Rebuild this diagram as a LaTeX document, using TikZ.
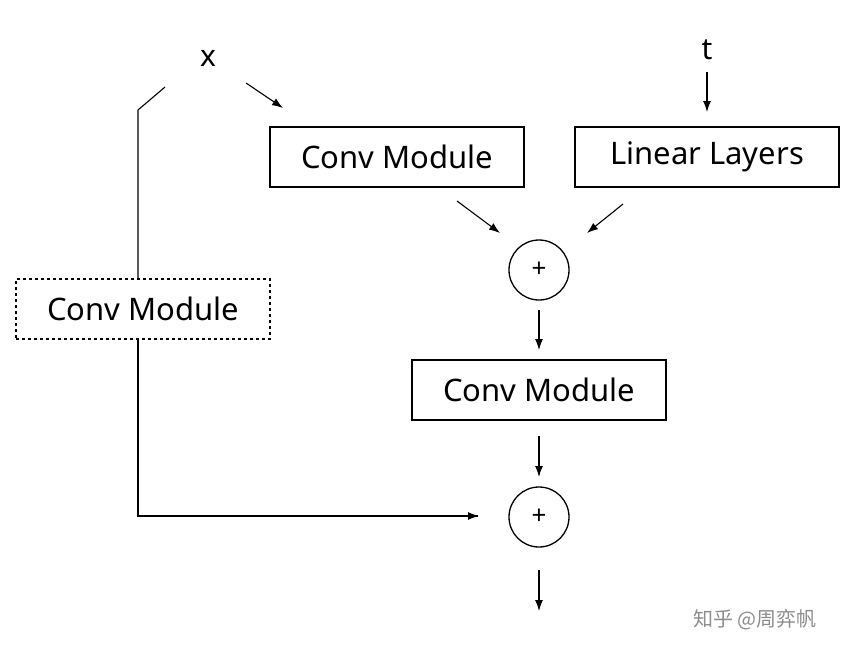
\documentclass[tikz,border=0pt]{standalone}
\usepackage{fontspec}
\setmainfont{Noto Sans}
\newfontfamily\cjk{Noto Sans CJK SC}
\usetikzlibrary{arrows.meta}
\begin{document}
\begin{tikzpicture}[x=1pt,y=-1pt,
  box/.style={draw,line width=1.3pt,minimum width=254pt,minimum height=60pt,inner sep=0pt,font=\fontsize{31}{36}\selectfont},
  plus/.style={draw,circle,line width=1.3pt,minimum size=60pt,inner sep=0pt,font=\fontsize{26}{30}\selectfont},
  arr/.style={line width=1.1pt,-{Latex[length=11pt,width=8pt]}},
  ln/.style={line width=1.1pt},
  lbl/.style={font=\fontsize{30}{34}\selectfont,inner sep=0pt}]
\useasboundingbox (0,0) rectangle (857,656);
\node[lbl] (x) at (208,58) {x};
\node[lbl] (t) at (707,50) {t};
\node[box] (c1) at (397,157) {Conv Module};
\node[box,minimum width=264pt] (lin) at (707,157) {Linear Layers};
\node[box,dashed] (c0) at (143,309) {Conv Module};
\node[plus] (p1) at (539,270) {+};
\node[box] (c2) at (539,390) {Conv Module};
\node[plus] (p2) at (539,517) {+};
\coordinate (out) at (539,611);
\node[font=\cjk\fontsize{20}{24}\selectfont,text=black!45] (wm) at (755,620) {知乎 @周弈帆};
\draw[ln] (165,87) -- (138,110) -- (c0.north -| 138,0);
\draw[ln] (c0.south -| 138,0) -- (138,516) -- (478,516);
\draw[arr] (470,516) -- (479,516);
\draw[arr] (246,83) -- (283,108);
\draw[arr] (707,72) -- (707,112);
\draw[arr] (457,201) -- (500,233);
\draw[arr] (623,204) -- (587,233);
\draw[arr] (539,310) -- (539,350);
\draw[arr] (539,436) -- (539,477);
\draw[arr] (539,570) -- (out);
\end{tikzpicture}
\end{document}
